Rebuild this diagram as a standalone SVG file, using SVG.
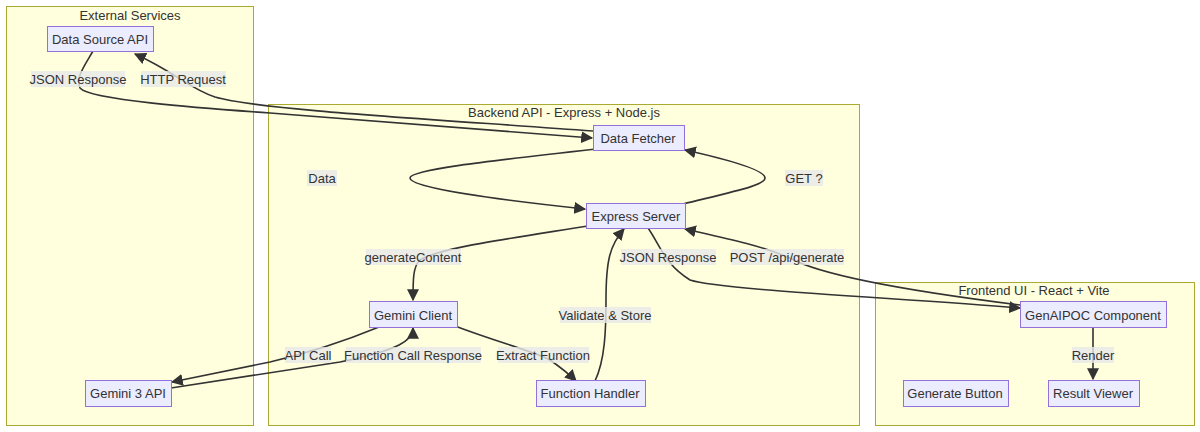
<svg xmlns="http://www.w3.org/2000/svg" width="1200" height="432" viewBox="0 0 1200 432">
<defs>
<marker id="arr" viewBox="0 0 10 10" refX="9" refY="5" markerUnits="userSpaceOnUse" markerWidth="12" markerHeight="12" orient="auto">
<path d="M0,0 L10,5 L0,10 z" fill="#333"/>
</marker>
</defs>
<style>
.cl{fill:#ffffde;stroke:#aaaa33;stroke-width:1}
.nd{fill:#ececff;stroke:#9370db;stroke-width:1}
text{font-family:"Liberation Sans",Arial,sans-serif;font-size:13px;fill:#333;text-anchor:middle;dominant-baseline:central}
.e{fill:none;stroke:#333;stroke-width:1.6;marker-end:url(#arr)}
.lb{fill:#e8e8e8;fill-opacity:0.8}
</style>
<rect width="1200" height="432" fill="#fff"/>
<g id="clusters">
<g id="external"><rect class="cl" x="6.5" y="6.5" width="247" height="419"/><text x="130" y="15">External Services</text></g>
<g id="backend"><rect class="cl" x="268.5" y="104.5" width="591" height="321"/><text x="564" y="112">Backend API - Express + Node.js</text></g>
<g id="frontend"><rect class="cl" x="875.5" y="282.5" width="319" height="143"/><text x="1034" y="290">Frontend UI - React + Vite</text></g>
</g>
<g id="connectors">
<path class="e" d="M593,131 C430,119 260,110 215,97 C190,89 175,72 135,54"/>
<path class="e" d="M93,51 C85,65 75,78 80,88 C90,100 200,108 270,113 L592,138"/>
<path class="e" d="M596,149 C480,162 410,170 410,178 C410,188 500,200 585,209"/>
<path class="e" d="M683,204 C740,190 765,185 765,178 C765,170 730,160 685,150"/>
<path class="e" d="M588,226 C500,240 440,248 420,260 C413,266 413,280 413,300"/>
<path class="e" d="M595,381 C605,360 606,330 606,300 C606,260 610,245 624,229"/>
<path class="e" d="M648,228 C660,245 665,265 690,280 C720,290 900,298 1020,308"/>
<path class="e" d="M1020,305 C900,290 820,275 790,258 C760,245 720,237 685,229"/>
<path class="e" d="M379,327 C340,343 300,355 270,362 L172,382"/>
<path class="e" d="M171,388 L340,362 C400,350 413,340 413,328"/>
<path class="e" d="M455,326 C500,343 530,350 550,360 C560,367 568,373 576,381"/>
<path class="e" d="M1093,327 L1093,379"/>
</g>
<g id="edge-labels">
<rect class="lb" x="31" y="71" width="94" height="16"/><text x="78" y="79">JSON Response</text>
<rect class="lb" x="141" y="71" width="85" height="16"/><text x="183" y="79">HTTP Request</text>
<rect class="lb" x="307" y="170" width="30" height="16"/><text x="322" y="178">Data</text>
<rect class="lb" x="785" y="170" width="38" height="16"/><text x="804" y="178">GET ?</text>
<rect class="lb" x="366" y="249" width="95" height="16"/><text x="413" y="257">generateContent</text>
<rect class="lb" x="621" y="249" width="95" height="16"/><text x="668" y="257">JSON Response</text>
<rect class="lb" x="731" y="249" width="113" height="16"/><text x="787" y="257">POST /api/generate</text>
<rect class="lb" x="560" y="307" width="91" height="16"/><text x="605" y="315">Validate &amp; Store</text>
<rect class="lb" x="285" y="347" width="46" height="16"/><text x="308" y="355">API Call</text>
<rect class="lb" x="346" y="347" width="135" height="16"/><text x="413" y="355">Function Call Response</text>
<rect class="lb" x="498" y="347" width="91" height="16"/><text x="543" y="355">Extract Function</text>
<rect class="lb" x="1072" y="347" width="42" height="16"/><text x="1093" y="355">Render</text>
</g>
<g id="n-datasource"><rect class="nd" x="47.5" y="26.5" width="106" height="25"/><text x="100" y="39">Data Source API</text></g>
<g id="n-datafetcher"><rect class="nd" x="593.5" y="125.5" width="91" height="25"/><text x="638" y="138">Data Fetcher</text></g>
<g id="n-express"><rect class="nd" x="586.5" y="203.5" width="99" height="25"/><text x="636" y="216">Express Server</text></g>
<g id="n-geminiclient"><rect class="nd" x="369.5" y="301.5" width="88" height="26"/><text x="413" y="315">Gemini Client</text></g>
<g id="n-functionhandler"><rect class="nd" x="536.5" y="380.5" width="109" height="26"/><text x="590" y="393">Function Handler</text></g>
<g id="n-gemini3"><rect class="nd" x="85.5" y="380.5" width="86" height="26"/><text x="128" y="393">Gemini 3 API</text></g>
<g id="n-genaipoc"><rect class="nd" x="1020.5" y="301.5" width="146" height="26"/><text x="1093" y="315">GenAIPOC Component</text></g>
<g id="n-generatebutton"><rect class="nd" x="903.5" y="380.5" width="105" height="26"/><text x="955" y="393">Generate Button</text></g>
<g id="n-resultviewer"><rect class="nd" x="1048.5" y="380.5" width="91" height="26"/><text x="1093" y="393">Result Viewer</text></g>
</svg>
